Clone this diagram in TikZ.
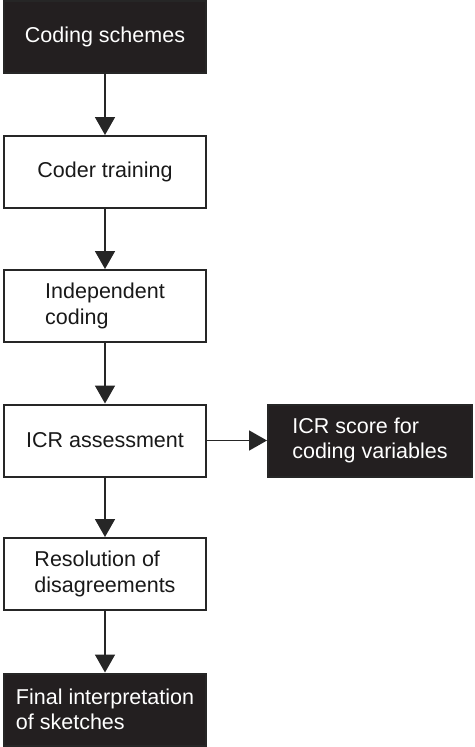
\documentclass[tikz,border=0pt]{standalone}
\usepackage{fontspec}
\setmainfont{Liberation Sans}
\usepackage{tikz}
\usepackage{xcolor}
\usetikzlibrary{arrows.meta}
\definecolor{box_dark}{RGB}{35,31,32}
\definecolor{line_gray}{RGB}{38,38,38}

\begin{document}
\begin{tikzpicture}[x=1pt,y=-1pt,
    box/.style={draw=line_gray,line width=2pt,minimum width=202pt,minimum height=72pt,inner sep=0pt,align=left,font=\fontsize{21.5}{25.5}\selectfont},
    darkbox/.style={box,fill=box_dark,text=white},
    lightbox/.style={box,fill=white,text=black!90},
    flow/.style={-{Triangle[width=20pt,length=18pt]},line width=1.8pt,draw=line_gray}]
            \useasboundingbox (0,0) rectangle (474,747);
            %手順の箱
            \node[darkbox] (schemes) at (105,37) {Coding schemes};
            \node[lightbox] (training) at (105,172) {Coder training};
            \node[lightbox] (independent) at (105,306) {Independent\\coding};
            \node[lightbox] (assessment) at (105,440.5) {ICR assessment};
            \node[lightbox] (resolution) at (105,574) {Resolution of\\disagreements};
            \node[darkbox] (final) at (105,709.5) {Final interpretation\\of sketches};
            %結果の箱
            \node[darkbox,minimum width=204pt] (score) at (370,440.5) {ICR score for\\coding variables};
            %矢印
            \draw[flow] (schemes)--(training);
            \draw[flow] (training)--(independent);
            \draw[flow] (independent)--(assessment);
            \draw[flow] (assessment)--(resolution);
            \draw[flow] (resolution)--(final);
            \draw[flow] (assessment)--(score);
        \end{tikzpicture}
\end{document}
